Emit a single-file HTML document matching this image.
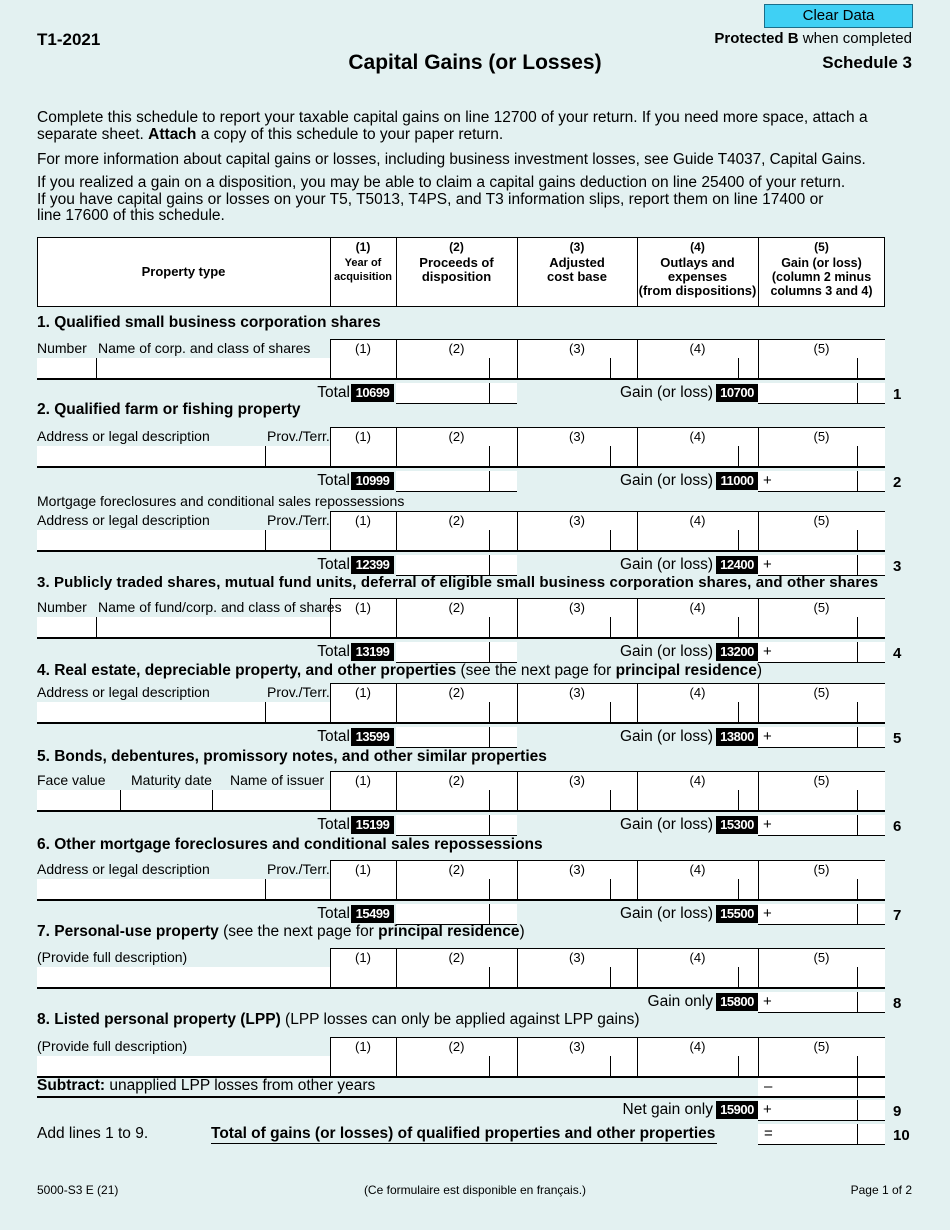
<!DOCTYPE html><html><head><meta charset="utf-8"><style>
body{margin:0;width:950px;height:1230px;background:#e3f1f1;font-family:"Liberation Sans",sans-serif;color:#000;position:relative;overflow:hidden}
.a{position:absolute;white-space:nowrap}
.w{position:absolute;background:#fff}
.l{position:absolute;background:#000}
.b{font-weight:bold}
.k{position:absolute;background:#000;color:#fff;font-weight:bold;font-size:13px;height:18px;line-height:18px;text-align:center;letter-spacing:-0.5px}
.c{position:absolute;text-align:center;font-size:13px}
</style></head><body>
<div class="a" style="left:764px;top:4px;width:147px;height:22px;background:#3fd0f4;border:1px solid #1a6e8a;text-align:center;font-size:15px;line-height:22px">Clear Data</div>
<div class="a b" style="left:37px;top:30px;font-size:17px">T1-2021</div>
<div class="a" style="right:38px;top:30px;font-size:15px"><b>Protected B</b> when completed</div>
<div class="a b" style="left:0;width:950px;text-align:center;top:51px;font-size:21px">Capital Gains (or Losses)</div>
<div class="a b" style="right:38px;top:53px;font-size:17px">Schedule 3</div>
<div class="a" style="left:37px;top:109px;font-size:15.5px;line-height:17px">Complete this schedule to report your taxable capital gains on line 12700 of your return. If you need more space, attach a<br>separate sheet. <b>Attach</b> a copy of this schedule to your paper return.</div>
<div class="a" style="left:37px;top:151px;font-size:15.3px">For more information about capital gains or losses, including business investment losses, see Guide T4037, Capital Gains.</div>
<div class="a" style="left:37px;top:175px;font-size:15.5px;line-height:16.5px">If you realized a gain on a disposition, you may be able to claim a capital gains deduction on line 25400 of your return.<br>If you have capital gains or losses on your T5, T5013, T4PS, and T3 information slips, report them on line 17400 or<br>line 17600 of this schedule.</div>
<div class="w" style="left:37px;top:237px;width:848px;height:70px;border:1px solid #000;box-sizing:border-box"></div>
<div id="g"></div>
<div class="a" style="left:37px;top:1183px;font-size:12px">5000-S3 E (21)</div>
<div class="a" style="left:0;width:950px;text-align:center;top:1183px;font-size:12px">(Ce formulaire est disponible en français.)</div>
<div class="a" style="right:38px;top:1183px;font-size:12px">Page 1 of 2</div>
<script>
var h='';
var cols=[330,396,517,637,758,885];
function R(x,y,w,hh,c){h+='<div class="'+c+'" style="left:'+x+'px;top:'+y+'px;width:'+w+'px;height:'+hh+'px"></div>';}
function T(x,y,t,s,cl){h+='<div class="a '+(cl||'')+'" style="left:'+x+'px;top:'+y+'px;'+(s||'')+'">'+t+'</div>';}
for(var i=0;i<5;i++){if(i>0)R(cols[i],237,1,70,'l');}
R(330,237,1,70,'l');
h+='<div class="c b" style="left:37px;top:264px;width:293px">Property type</div>';
var hd=[['(1)','Year of<br>acquisition',11],['(2)','Proceeds of<br>disposition',13],['(3)','Adjusted<br>cost base',13],['(4)','Outlays and<br>expenses<br>(from dispositions)',13],['(5)','Gain (or loss)<br>(column 2 minus<br>columns 3 and 4)',12.5]];
for(var i=0;i<5;i++){h+='<div class="c b" style="left:'+cols[i]+'px;width:'+(cols[i+1]-cols[i])+'px;top:240px;font-size:12px;line-height:14px">'+hd[i][0]+'<div style="font-size:'+hd[i][2]+'px;margin-top:2px">'+hd[i][1]+'</div></div>';}
function blk(t,labels,divs){
 R(330,t,555,39,'w');R(37,t+19,293,20,'w');
 R(330,t,555,1,'l');
 for(var i=0;i<5;i++){R(cols[i],t,1,39,'l');h+='<div class="c" style="left:'+cols[i]+'px;width:'+(cols[i+1]-cols[i])+'px;top:'+(t+2)+'px">('+(i+1)+')</div>';}
 [489,610,738,857].forEach(function(x){R(x,t+19,1,20,'l');});
 divs.forEach(function(x){R(x,t+19,1,20,'l');});
 labels.forEach(function(l){T(l[0],t+1,l[1],'font-size:14px');});
 R(37,t+39,848,2,'l');
}
function tot(t,code,gl,gcode,plus,ln){
 var y=t+44;
 if(code){T(0,y+1,'Total','font-size:15.5px;width:350px;text-align:right');h+='<div class="k" style="left:351px;top:'+(y+1)+'px;width:43px">'+code+'</div>';R(396,y,121,20,'w');R(489,y,1,20,'l');R(396,y+20,121,1,'l');}
 T(0,y+1,gl,'font-size:15.5px;width:713px;text-align:right');
 h+='<div class="k" style="left:716px;top:'+(y+1)+'px;width:42px">'+gcode+'</div>';
 R(758,y,127,20,'w');R(857,y,1,20,'l');R(758,y+20,127,1,'l');
 if(plus)T(763,y+1,'+','font-size:15px');
 T(893,y+3,ln,'font-size:15px','b');
}
var TS='font-size:15.5px';
T(37,314,'1. Qualified small business corporation shares',TS,'b');
blk(339,[[37,'Number'],[98,'Name of corp. and class of shares']],[96]);tot(339,'10699','Gain (or loss)','10700',0,'1');
T(37,401,'2. Qualified farm or fishing property',TS,'b');
blk(427,[[37,'Address or legal description'],[267,'Prov./Terr.']],[265]);tot(427,'10999','Gain (or loss)','11000',1,'2');
T(37,493,'Mortgage foreclosures and conditional sales repossessions','font-size:14px');
blk(511,[[37,'Address or legal description'],[267,'Prov./Terr.']],[265]);tot(511,'12399','Gain (or loss)','12400',1,'3');
T(37,574,'3. Publicly traded shares, mutual fund units, deferral of eligible small business corporation shares, and other shares','font-size:15px;letter-spacing:0.1px','b');
blk(598,[[37,'Number'],[98,'Name of fund/corp. and class of shares']],[96]);tot(598,'13199','Gain (or loss)','13200',1,'4');
T(37,662,'<b>4. Real estate, depreciable property, and other properties</b> (see the next page for <b>principal residence</b>)',TS);
blk(683,[[37,'Address or legal description'],[267,'Prov./Terr.']],[265]);tot(683,'13599','Gain (or loss)','13800',1,'5');
T(37,748,'5. Bonds, debentures, promissory notes, and other similar properties',TS,'b');
blk(771,[[37,'Face value'],[131,'Maturity date'],[230,'Name of issuer']],[120,212]);tot(771,'15199','Gain (or loss)','15300',1,'6');
T(37,836,'6. Other mortgage foreclosures and conditional sales repossessions',TS,'b');
blk(860,[[37,'Address or legal description'],[267,'Prov./Terr.']],[265]);tot(860,'15499','Gain (or loss)','15500',1,'7');
T(37,923,'<b>7. Personal-use property</b> (see the next page for <b>principal residence</b>)',TS);
blk(948,[[37,'(Provide full description)']],[]);tot(948,null,'Gain only','15800',1,'8');
T(37,1011,'<b>8. Listed personal property (LPP)</b> (LPP losses can only be applied against LPP gains)',TS);
blk(1037,[[37,'(Provide full description)']],[]);
T(37,1077,'<b>Subtract:</b> unapplied LPP losses from other years',TS);
R(758,1078,127,18,'w');R(857,1078,1,18,'l');R(37,1096,848,2,'l');T(764,1078,'–','font-size:15px');
T(0,1101,'Net gain only','font-size:15.5px;width:713px;text-align:right');
h+='<div class="k" style="left:716px;top:1101px;width:42px">15900</div>';
R(758,1100,127,20,'w');R(857,1100,1,20,'l');R(758,1120,127,1,'l');T(763,1101,'+','font-size:15px');T(893,1103,'9','font-size:15px','b');
T(37,1125,'Add lines 1 to 9.',TS);
T(211,1125,'Total of gains (or losses) of qualified properties and other properties','font-size:15.5px','b');
R(211,1143,506,1,'l');
R(758,1124,127,20,'w');R(857,1124,1,20,'l');R(758,1144,127,1,'l');T(764,1125,'=','font-size:15px');T(893,1127,'10','font-size:15px','b');
document.getElementById('g').innerHTML=h;
</script>
</body></html>
